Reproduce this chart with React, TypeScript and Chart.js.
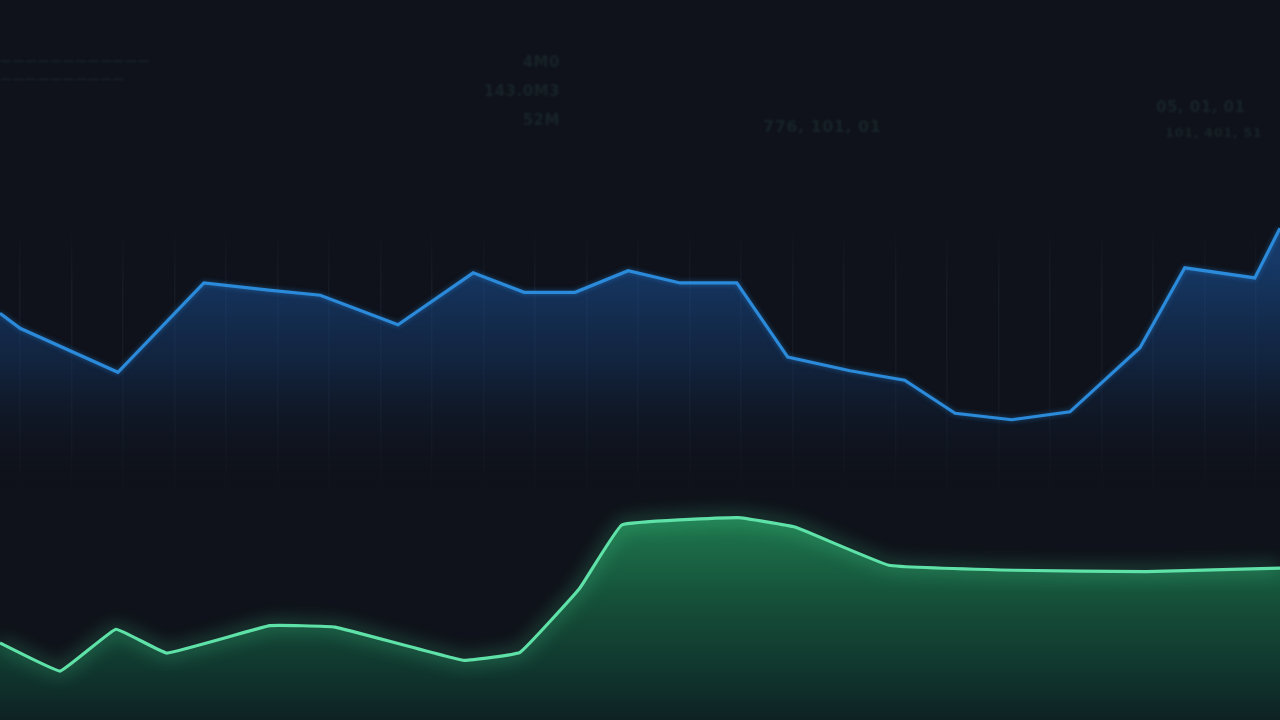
import React, { useEffect, useRef } from "react";
import { Chart, registerables } from "chart.js";

Chart.register(...registerables);

// x positions are in grid units (one unit = one faint vertical grid step)
const blueX = [-0.39, 0, 1.9, 3.57, 4.83, 5.83, 7.34, 8.8, 9.79, 10.78, 11.81, 12.82, 13.92, 14.91, 16.12, 17.18, 18.16, 19.26, 20.39, 21.75, 22.62, 23.98, 24.47];
const blueY = [56.5, 54.4, 48.3, 60.7, 59.7, 59.0, 54.9, 62.1, 59.4, 59.4, 62.4, 60.7, 60.7, 50.4, 48.5, 47.2, 42.6, 41.7, 42.8, 51.7, 62.8, 61.4, 68.3];

const greenX = [-0.39, 0.78, 1.86, 2.85, 4.85, 6.12, 8.6, 9.71, 10.87, 11.69, 13.94, 15.05, 16.87, 19.32, 21.86, 24.47];
const greenY = [10.7, 6.8, 12.6, 9.3, 13.1, 12.9, 8.3, 9.4, 18.3, 27.1, 28.1, 26.8, 21.5, 20.8, 20.6, 21.1];

const overlayTexts = [
  { text: "4M0", right: 720, top: 53, size: 15 },
  { text: "143.0M3", right: 720, top: 82, size: 15 },
  { text: "52M", right: 720, top: 111, size: 15 },
  { text: "776, 101, 01", left: 763, top: 117, size: 16 },
  { text: "05, 01, 01", left: 1156, top: 98, size: 15 },
  { text: "101, 401, 51", left: 1165, top: 125, size: 13 },
  { text: "————————————", left: 0, top: 54, size: 12 },
  { text: "——————————", left: 0, top: 72, size: 12 },
];

const glowPlugin = {
  id: "glow",
  beforeDatasetDraw(chart: any, args: any) {
    const ctx = chart.ctx;
    ctx.save();
    if (args.index === 1) {
      ctx.shadowColor = "rgba(80,230,160,0.9)";
      ctx.shadowBlur = 18;
    } else {
      ctx.shadowColor = "rgba(40,140,230,0.5)";
      ctx.shadowBlur = 5;
    }
  },
  afterDatasetDraw(chart: any) {
    chart.ctx.restore();
  },
};

export default function App() {
  const ref = useRef<HTMLCanvasElement | null>(null);

  useEffect(() => {
    if (!ref.current) return;
    const chart = new Chart(ref.current, {
      type: "line",
      data: {
        datasets: [
          {
            data: blueX.map((x, i) => ({ x, y: blueY[i] })),
            borderColor: "#2b8ad9",
            borderWidth: 3.2,
            pointRadius: 0,
            tension: 0,
            fill: "start",
            backgroundColor: (c: any) => {
              const area = c.chart.chartArea;
              if (!area) return "rgba(0,0,0,0)";
              const g = c.chart.ctx.createLinearGradient(0, 260, 0, 490);
              g.addColorStop(0, "rgba(28,86,160,0.58)");
              g.addColorStop(0.45, "rgba(22,60,112,0.42)");
              g.addColorStop(1, "rgba(15,18,26,0)");
              return g;
            },
          },
          {
            data: greenX.map((x, i) => ({ x, y: greenY[i] })),
            borderColor: "#5fe2a8",
            borderWidth: 3.2,
            pointRadius: 0,
            tension: 0.08,
            fill: "start",
            backgroundColor: (c: any) => {
              const area = c.chart.chartArea;
              if (!area) return "rgba(0,0,0,0)";
              const g = c.chart.ctx.createLinearGradient(0, 515, 0, 720);
              g.addColorStop(0, "rgba(32,128,82,0.95)");
              g.addColorStop(0.45, "rgba(22,88,62,0.85)");
              g.addColorStop(1, "rgba(14,36,38,0.9)");
              return g;
            },
          },
        ],
      },
      options: {
        animation: false,
        responsive: false,
        maintainAspectRatio: false,
        layout: { padding: 0 },
        plugins: { legend: { display: false }, tooltip: { enabled: false } },
        scales: {
          x: {
            type: "linear",
            min: -0.39,
            max: 24.47,
            border: { display: false },
            ticks: { display: false, stepSize: 1, includeBounds: false },
            grid: {
              drawTicks: false,
              tickLength: 0,
              lineWidth: 1.5,
              color: (c: any) => {
                const g = c.chart.ctx.createLinearGradient(0, 220, 0, 500);
                g.addColorStop(0, "rgba(110,140,180,0)");
                g.addColorStop(0.25, "rgba(110,140,180,0.08)");
                g.addColorStop(0.7, "rgba(110,140,180,0.06)");
                g.addColorStop(1, "rgba(110,140,180,0)");
                return g;
              },
            },
          },
          y: {
            type: "linear",
            display: false,
            min: 0,
            max: 100,
          },
        },
      },
      plugins: [glowPlugin],
    });
    return () => chart.destroy();
  }, []);

  return (
    <div
      style={{
        position: "fixed",
        left: 0,
        top: 0,
        width: 1280,
        height: 720,
        background: "#0f121a",
        overflow: "hidden",
      }}
    >
      <canvas ref={ref} width={1280} height={720} style={{ display: "block" }} />
      {overlayTexts.map((t, i) => (
        <div
          key={i}
          style={{
            position: "absolute",
            top: t.top,
            left: t.left,
            right: t.right !== undefined ? t.right : undefined,
            fontFamily: "'DejaVu Sans', sans-serif",
            fontWeight: "bold",
            fontSize: t.size,
            color: "rgba(60,110,105,0.2)",
            filter: "blur(1px)",
            whiteSpace: "nowrap",
            letterSpacing: 0.5,
          }}
        >
          {t.text}
        </div>
      ))}
    </div>
  );
}
